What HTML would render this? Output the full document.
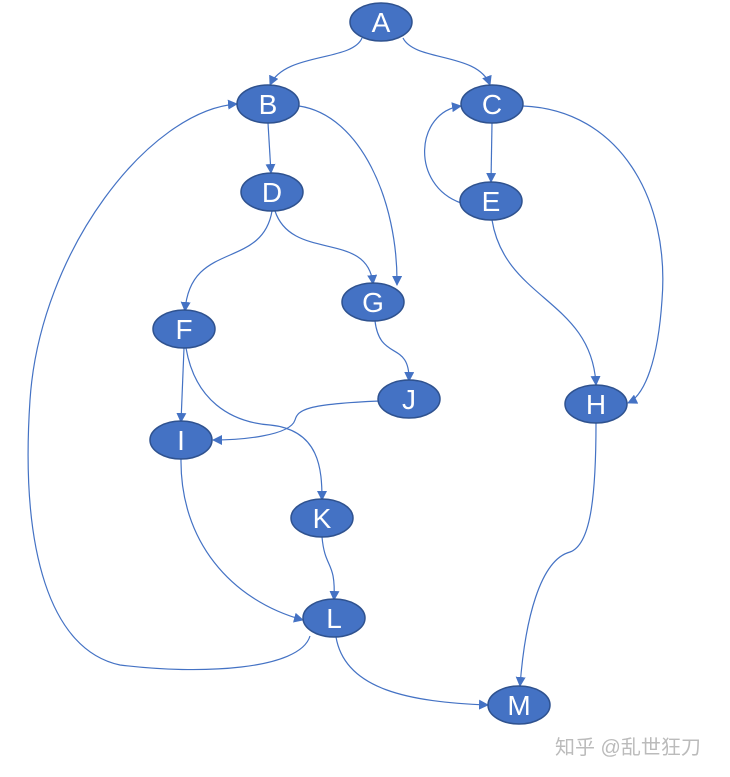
<!DOCTYPE html>
<html><head><meta charset="utf-8"><style>
html,body{margin:0;padding:0;background:#fff;width:730px;height:777px;overflow:hidden}
</style></head><body>
<svg width="730" height="777" viewBox="0 0 730 777" xmlns="http://www.w3.org/2000/svg">
<defs>
<marker id="ar" markerWidth="10" markerHeight="10" refX="9" refY="5" orient="auto" markerUnits="userSpaceOnUse">
<path d="M0,0 L10,5 L0,10 z" fill="#4472C4"/>
</marker>
</defs>
<g fill="none" stroke="#4472C4" stroke-width="1.2" marker-end="url(#ar)">
<path d="M362,38 C352,62 285,52 270,85"/>
<path d="M403,38 C415,62 478,52 490,85"/>
<path d="M268,123 L271,173"/>
<path d="M299,106 C360,115 398,200 397,285"/>
<path d="M492,123 L491,182"/>
<path d="M461,203 C410,185 415,112 461,106"/>
<path d="M523,106 C620,110 670,200 662,300 C658,360 645,395 628,403"/>
<path d="M492,220 C505,300 592,300 596,385"/>
<path d="M272,211 C262,270 190,240 185,311"/>
<path d="M275,211 C292,262 368,230 373,284"/>
<path d="M375,321 C380,362 410,340 409,381"/>
<path d="M380,401 C305,404 298,410 295,420 C290,436 240,440 213,440"/>
<path d="M184,348 L181,422"/>
<path d="M186,348 C195,400 230,422 270,425 C320,430 322,470 322,500"/>
<path d="M181,459 C180,540 230,600 303,620"/>
<path d="M322,537 C325,570 336,560 334,600"/>
<path d="M336,637 C345,690 410,702 488,705"/>
<path d="M596,423 C596,500 590,545 570,552 C540,560 525,620 520,686"/>
<path d="M310,636 C300,670 200,675 120,665 C50,650 20,550 30,400 C40,250 150,110 237,104"/>
</g>
<g fill="#4472C4" stroke="#2F528F" stroke-width="1.5">
<ellipse cx="381" cy="22" rx="31" ry="19"/>
<ellipse cx="268" cy="104" rx="31" ry="19"/>
<ellipse cx="492" cy="104" rx="31" ry="19"/>
<ellipse cx="272" cy="192" rx="31" ry="19"/>
<ellipse cx="491" cy="201" rx="31" ry="19"/>
<ellipse cx="184" cy="329" rx="31" ry="19"/>
<ellipse cx="373" cy="302" rx="31" ry="19"/>
<ellipse cx="409" cy="399" rx="31" ry="19"/>
<ellipse cx="596" cy="404" rx="31" ry="19"/>
<ellipse cx="181" cy="440" rx="31" ry="19"/>
<ellipse cx="322" cy="518" rx="31" ry="19"/>
<ellipse cx="334" cy="618" rx="31" ry="19"/>
<ellipse cx="519" cy="705" rx="31" ry="19"/>
</g>
<g fill="#fff" font-family="Liberation Sans, sans-serif" font-size="28" text-anchor="middle">
<text x="381" y="32">A</text>
<text x="268" y="114">B</text>
<text x="492" y="114">C</text>
<text x="272" y="202">D</text>
<text x="491" y="211">E</text>
<text x="184" y="339">F</text>
<text x="373" y="312">G</text>
<text x="409" y="409">J</text>
<text x="596" y="414">H</text>
<text x="181" y="450">I</text>
<text x="322" y="528">K</text>
<text x="334" y="628">L</text>
<text x="519" y="715">M</text>
</g>
<text x="555" y="754" font-family="Liberation Sans, 'Noto Sans CJK SC', sans-serif" font-size="20" fill="#bbb">知乎 @乱世狂刀</text>
</svg>
</body></html>
